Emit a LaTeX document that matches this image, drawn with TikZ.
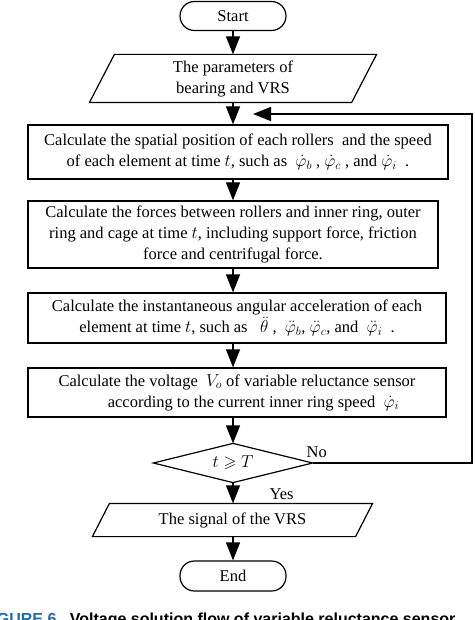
\documentclass[tikz,border=0pt]{standalone}
\usepackage{amssymb}
\usepackage{fontspec}
\setmainfont{Liberation Serif}
\newfontfamily\capfont{Liberation Sans}
\usetikzlibrary{arrows.meta,calc}
\definecolor{capblue}{RGB}{35,105,170}
\begin{document}
\begin{tikzpicture}[x=1pt,y=-1pt,
  line width=1.2pt,
  every node/.style={font=\fontsize{16.5}{21}\selectfont, inner sep=0pt},
  procbox/.style={draw, rectangle, align=center},
  term/.style={draw, rounded corners=14.5pt, minimum width=106pt, minimum height=29pt},
  iobox/.style={draw=none, align=center},
  decis/.style={draw=none},
  arr/.style={-{Triangle[length=18pt,width=14pt]}}
]
\useasboundingbox (0,0) rectangle (474,620);
\clip (0,0) rectangle (474,620);
% nodes
\node[term] (start) at (233,16) {Start};
\node[iobox, minimum width=286pt, minimum height=47pt] (p1) at (233,78.5) {The parameters of\\bearing and VRS};
\draw ($(p1.south west)$) -- ($(p1.north west)+(25,0)$) -- (p1.north east) -- ($(p1.south east)+(-25,0)$) -- cycle;
\node[procbox, minimum width=420pt, minimum height=54pt] (b1) at (238,152) {Calculate the spatial position of each rollers \ and the speed\\of each element at time $t$, such as \ $\dot{\varphi}_b$ , $\dot{\varphi}_c$ , and $\dot{\varphi}_i$ \ .};
\node[procbox, minimum width=410pt, minimum height=67pt] (b2) at (233,234.5) {Calculate the forces between rollers and inner ring, outer\\ring and cage at time $t$, including support force, friction\\force and centrifugal force.};
\node[procbox, minimum width=418pt, minimum height=50pt] (b3) at (237,318) {Calculate the instantaneous angular acceleration of each\\element at time $t$, such as \ \ $\ddot{\theta}$ , \ $\ddot{\varphi}_b$, $\ddot{\varphi}_c$, and \ $\ddot{\varphi}_i$ \ .};
\node[procbox, minimum width=418pt, minimum height=49pt] (b4) at (237,392.5) {Calculate the voltage \ $V_o$ of variable reluctance sensor\\\hspace*{2em}according to the current inner ring speed \ $\dot{\varphi}_i$};
\node[decis, minimum width=158pt, minimum height=38pt] (d) at (233,463) {$t\geqslant T$};
\draw (d.west) -- (d.north) -- (d.east) -- (d.south) -- cycle;
\node[iobox, minimum width=279pt, minimum height=32pt] (p2) at (232.5,520) {The signal of the VRS};
\draw ($(p2.south west)$) -- ($(p2.north west)+(17,0)$) -- (p2.north east) -- ($(p2.south east)+(-17,0)$) -- cycle;
\node[term, minimum height=30pt] (end) at (233,576) {End};
\coordinate (fbR) at (472,463);
\coordinate (fbT) at (472,114);
\coordinate (fbE) at (253,114);
% connectors
\draw[arr] (start.south) -- (start.south |- p1.north);
\draw[arr] (p1.south) -- (p1.south |- b1.north);
\draw[arr] (p1.south |- b1.south) -- (p1.south |- b2.north);
\draw[arr] (p1.south |- b2.south) -- (p1.south |- b3.north);
\draw[arr] (p1.south |- b3.south) -- (p1.south |- b4.north);
\draw[arr] (p1.south |- b4.south) -- (d.north);
\draw[arr] (d.south) -- (d.south |- p2.north);
\draw[arr] (d.south |- p2.south) -- (end.north);
\draw[arr] (d.east) -- (fbR) -- (fbT) -- (fbE);
\node[anchor=base west] (no) at (306,457) {No};
\node[anchor=base west] (yes) at (269,499) {Yes};
\node[anchor=base east, font=\capfont\bfseries\fontsize{16}{18}\selectfont] (cap) at (456,624) {\textcolor{capblue}{FIGURE 6.}\ \ Voltage solution flow of variable reluctance sensor};
\end{tikzpicture}
\end{document}
